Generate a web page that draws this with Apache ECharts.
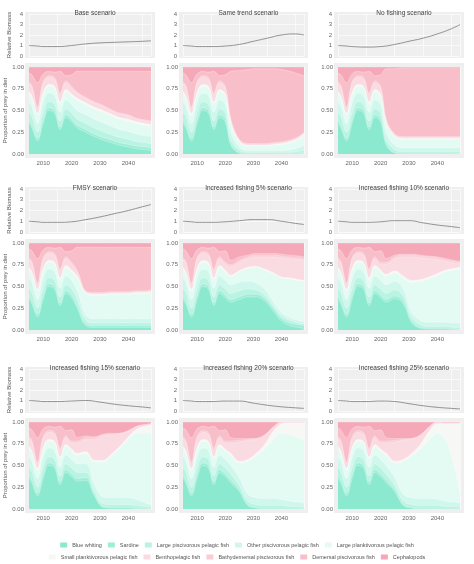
<!DOCTYPE html>
<html><head><meta charset="utf-8">
<script src="https://cdn.jsdelivr.net/npm/echarts@6/dist/echarts.min.js"></script>
<style>html,body{margin:0;padding:0;background:#fff}#c{width:474px;height:564px}</style>
</head><body><div id="c"></div>
<script>
const preyGroups = ['Blue whiting','Sardine','Large piscivorous pelagic fish','Other piscivorous pelagic fish','Large planktivorous pelagic fish','Small planktivorous pelagic fish','Benthopelagic fish','Bathydemersal piscivorous fish','Demersal piscivorous fish','Cephalopods'];
const preyColors = ['#8ae9ce','#9eedd7','#b9f3e2','#d0f7ec','#e4fbf4','#f7f7f5','#fadbe1','#f8cdd6','#f8bfca','#f5a9b8'];
const scenarios = ['Base scenario','Same trend scenario','No fishing scenario','FMSY scenario','Increased fishing 5% scenario','Increased fishing 10% scenario','Increased fishing 15% scenario','Increased fishing 20% scenario','Increased fishing 25% scenario'];
const years = [2005,2006,2008,2010,2012,2014,2016,2018,2020,2022,2025,2028,2031,2034,2037,2040,2043,2046,2048];
const bioYears = [2005,2008,2010,2015,2020,2025,2030,2035,2040,2045,2048];
// shares 2005-2020 (common to all scenarios)
const earlyShares = [
 [.35,.30,.15,.35,.50,.47,.28,.42,.37],
 [.03,.03,.03,.04,.03,.03,.03,.03,.03],
 [.10,.10,.07,.08,.07,.07,.07,.07,.07],
 [.12,.12,.10,.12,.10,.10,.10,.10,.10],
 [.10,.10,.10,.10,.08,.09,.10,.10,.10],
 [.02,.02,.02,.02,.02,.02,.02,.02,.02],
 [.09,.10,.05,.10,.08,.08,.08,.08,.07],
 [.02,.02,.02,.02,.02,.02,.02,.02,.02],
 [.10,.12,.28,.09,.05,.06,.25,.06,.13],
 [.07,.09,.18,.08,.05,.06,.05,.10,.09]];
// shares 2022-2048 per scenario
const lateBase = [
 [.30,.25,.20,.16,.13,.10,.08,.06,.05,.04],
 [.03,.03,.03,.03,.03,.03,.03,.03,.03,.03],
 [.07,.07,.07,.07,.06,.06,.06,.05,.05,.05],
 [.10,.10,.10,.10,.10,.09,.09,.09,.08,.08],
 [.12,.12,.12,.12,.12,.12,.12,.12,.12,.12],
 [.02,.02,.02,.02,.02,.02,.02,.02,.02,.02],
 [.06,.05,.05,.05,.04,.04,.04,.03,.03,.03],
 [.01,.01,.01,.01,.01,.01,.01,.01,.01,.01],
 [.24,.30,.35,.39,.44,.48,.50,.54,.56,.57],
 [.05,.05,.05,.05,.05,.05,.05,.05,.05,.05]];
const lateSame = [
 [.10,.01,0,0,0,0,0,0,0,0],
 [.02,.01,.01,.01,.01,.01,.01,.01,.01,.01],
 [.05,.02,.01,.01,.01,.01,.01,.01,.02,.03],
 [.08,.04,.02,.02,.02,.02,.02,.03,.04,.06],
 [.10,.06,.05,.05,.05,.06,.07,.08,.10,.12],
 [.01,.01,.01,.01,.01,.01,.01,.01,.01,.01],
 [.03,.01,.01,.01,.01,.01,.01,.01,.01,.01],
 [.01,.01,.01,.01,.01,.01,.01,.01,.01,.01],
 [.55,.79,.85,.86,.86,.85,.83,.79,.72,.65],
 [.05,.04,.03,.02,.02,.02,.03,.05,.08,.10]];
const lateNoFishing = [
 [.10,.01,0,0,0,0,0,0,0,0],
 [.02,.01,.01,.01,.01,.01,.01,.01,.01,.01],
 [.05,.03,.02,.02,.02,.02,.02,.02,.02,.02],
 [.08,.05,.04,.04,.04,.04,.04,.04,.04,.04],
 [.10,.10,.10,.10,.10,.10,.10,.10,.10,.10],
 [.01,.01,.01,.01,.01,.01,.01,.01,.01,.01],
 [.03,.01,.01,.01,.01,.01,.01,.01,.01,.01],
 [.01,.01,.01,.01,.01,.01,.01,.01,.01,.01],
 [.58,.75,.79,.79,.79,.79,.79,.79,.79,.79],
 [.02,.02,.01,.01,.01,.01,.01,.01,.01,.01]];
const lateFmsy = [
 [.25,.05,.03,.03,.03,.03,.03,.03,.03,.03],
 [.03,.02,.02,.02,.02,.02,.02,.02,.02,.02],
 [.07,.04,.03,.03,.03,.03,.03,.03,.03,.03],
 [.10,.06,.05,.05,.05,.05,.05,.05,.05,.05],
 [.15,.25,.27,.27,.28,.28,.28,.29,.29,.30],
 [.02,.01,.01,.01,.01,.01,.01,.01,.01,.01],
 [.05,.01,.01,.01,.01,.01,.01,.01,.01,.01],
 [.01,.01,.01,.01,.01,.01,.01,.01,.01,.01],
 [.27,.50,.52,.52,.51,.51,.51,.50,.50,.49],
 [.05,.05,.05,.05,.05,.05,.05,.05,.05,.05]];
const lateInc5 = [
 [.32,.35,.38,.38,.33,.22,.10,.05,.03,.02],
 [.03,.03,.03,.03,.03,.03,.03,.03,.03,.03],
 [.07,.07,.06,.05,.04,.03,.03,.03,.02,.02],
 [.10,.10,.09,.08,.07,.05,.04,.03,.03,.03],
 [.10,.12,.15,.18,.22,.32,.40,.45,.46,.46],
 [.01,.01,.01,.01,.01,.01,.01,.01,.01,.01],
 [.10,.10,.10,.11,.14,.18,.22,.22,.23,.23],
 [.02,.02,.02,.02,.02,.02,.02,.02,.02,.02],
 [.05,.04,.02,.02,.02,.02,.02,.02,.02,.02],
 [.20,.16,.14,.12,.12,.12,.13,.14,.15,.16]];
const lateInc10 = [
 [.32,.36,.30,.08,.02,.01,.01,.01,0,0],
 [.03,.03,.03,.02,.01,.01,.01,.01,.01,.01],
 [.07,.07,.06,.04,.03,.02,.02,.02,.02,.02],
 [.10,.10,.08,.06,.05,.05,.05,.05,.05,.05],
 [.10,.10,.13,.35,.45,.50,.54,.58,.61,.62],
 [.02,.02,.02,.02,.02,.02,.02,.02,.02,.02],
 [.12,.14,.22,.27,.25,.21,.16,.10,.06,.04],
 [.02,.02,.02,.02,.02,.02,.02,.02,.02,.02],
 [.04,.02,.01,.01,.01,.01,.01,.01,.01,.01],
 [.18,.14,.13,.13,.14,.15,.16,.18,.20,.21]];
const lateInc15 = [
 [.32,.33,.15,.02,.01,.01,.01,0,0,0],
 [.03,.03,.02,.01,.01,.01,.01,.01,.01,.01],
 [.07,.06,.04,.03,.03,.03,.03,.03,.02,.02],
 [.10,.10,.08,.08,.08,.08,.08,.07,.04,.02],
 [.10,.12,.25,.40,.48,.57,.67,.76,.80,.82],
 [.02,.02,.02,.02,.02,.02,.03,.05,.08,.10],
 [.12,.14,.24,.28,.22,.14,.06,.02,.01,0],
 [.02,.02,.02,.01,.01,.01,.01,.01,.01,.01],
 [.04,.02,.01,.01,.01,0,0,0,0,0],
 [.18,.16,.17,.14,.13,.13,.10,.05,.03,.02]];
const lateInc20 = [
 [.30,.20,.04,.01,0,0,0,0,0,0],
 [.03,.02,.01,.01,.01,.01,.01,.01,.01,.01],
 [.07,.05,.04,.03,.03,.03,.03,.02,.02,.02],
 [.10,.09,.08,.08,.08,.08,.07,.06,.05,.04],
 [.12,.17,.38,.48,.57,.67,.76,.76,.74,.72],
 [.02,.02,.02,.03,.05,.10,.11,.14,.17,.20],
 [.12,.22,.22,.16,.10,.04,.01,0,0,0],
 [.02,.02,.01,.01,.01,.01,.01,.01,.01,.01],
 [.04,.02,.01,0,0,0,0,0,0,0],
 [.18,.19,.19,.19,.15,.06,0,0,0,0]];
const lateInc25 = [
 [.30,.20,.04,.01,0,0,0,0,0,0],
 [.03,.02,.01,.01,.01,.01,.01,.01,.01,.01],
 [.07,.05,.04,.03,.03,.03,.03,.02,.02,.02],
 [.10,.09,.08,.08,.08,.08,.07,.06,.05,.04],
 [.12,.17,.38,.48,.57,.67,.76,.70,.40,.12],
 [.02,.02,.02,.03,.05,.10,.11,.19,.50,.79],
 [.12,.22,.22,.16,.10,.04,.01,0,0,0],
 [.02,.02,.01,.01,.01,.01,.01,.01,.01,.01],
 [.04,.02,.01,0,0,0,0,0,0,0],
 [.18,.19,.19,.19,.15,.06,0,.01,.01,.01]];
const lateShares = [lateBase,lateSame,lateNoFishing,lateFmsy,lateInc5,lateInc10,lateInc15,lateInc20,lateInc25];
const bioBase   = [1.0,0.95,0.9,0.9,1.0,1.15,1.25,1.3,1.35,1.4,1.45];
const bioSame   = [1.0,0.95,0.9,0.9,0.95,1.1,1.4,1.7,2.0,2.1,2.0];
const bioNoFish = [1.0,0.95,0.9,0.85,0.9,1.1,1.4,1.7,2.1,2.6,3.0];
const bioFmsy   = [1.0,0.95,0.9,0.9,0.95,1.15,1.4,1.7,2.0,2.35,2.55];
const bioInc5   = [1.0,0.95,0.9,0.9,0.95,1.05,1.15,1.15,1.0,0.8,0.7];
const bioInc10  = [1.0,0.95,0.9,0.9,0.95,1.05,1.05,0.85,0.65,0.5,0.4];
const bioInc15  = [1.0,0.95,0.9,0.9,0.95,1.0,0.85,0.65,0.5,0.38,0.3];
const bioInc20  = [1.0,0.95,0.9,0.9,0.95,0.95,0.75,0.55,0.4,0.3,0.25];
const bioInc25  = [1.0,0.95,0.9,0.9,0.95,0.9,0.7,0.5,0.35,0.25,0.2];
const biomass = [bioBase,bioSame,bioNoFish,bioFmsy,bioInc5,bioInc10,bioInc15,bioInc20,bioInc25];
const yTicksProp = ['0.00','0.25','0.50','0.75','1.00'];

const colX = [[29,151],[183,304],[338,460]];
const rows = [{lt:14,lb:56,at:67,ab:154,title:5},{lt:189,lb:232,at:243,ab:330,title:180},{lt:369,lb:411,at:422,ab:509,title:360}];
const grid=[],xAxis=[],yAxis=[],series=[],title=[],graphic=[];
const lab={fontSize:6,color:'#666',fontFamily:'Liberation Sans'};
const split={show:true,lineStyle:{color:'#fff',width:0.6}};
scenarios.forEach((name,i)=>{
  const c=colX[i%3], r=rows[Math.floor(i/3)];
  title.push({text:name,left:(c[0]+c[1])/2,top:r.title,textAlign:'center',textStyle:{fontSize:6.5,fontWeight:'normal',color:'#444',fontFamily:'Liberation Sans'}});
  graphic.push({type:'rect',z:-1,shape:{x:c[0]-4,y:r.lt-2,width:c[1]-c[0]+8,height:r.lb-r.lt+4},style:{fill:'#efefef'}});
  graphic.push({type:'rect',z:-1,shape:{x:c[0]-4,y:r.at-4,width:c[1]-c[0]+8,height:r.ab-r.at+8},style:{fill:'#efefef'}});
  const gl=grid.length;
  grid.push({left:c[0],width:c[1]-c[0],top:r.lt,height:r.lb-r.lt});
  grid.push({left:c[0],width:c[1]-c[0],top:r.at,height:r.ab-r.at});
  xAxis.push({type:'value',gridIndex:gl,min:2005,max:2048,interval:10,axisLine:{show:false},axisTick:{show:false},axisLabel:{show:false},splitLine:split});
  xAxis.push({type:'value',gridIndex:gl+1,min:2005,max:2048,interval:10,axisLine:{show:false},axisTick:{show:false},axisLabel:{...lab,margin:6,customValues:[2010,2020,2030,2040],formatter:v=>String(v)},splitLine:split});
  const first=i%3===0;
  yAxis.push({type:'value',gridIndex:gl,min:0,max:4,interval:1,axisLine:{show:false},axisTick:{show:false},axisLabel:{...lab,margin:6},splitLine:split,
    name:first?'Relative Biomass':'',nameLocation:'middle',nameGap:17,nameTextStyle:{fontSize:6,color:'#555',fontFamily:'Liberation Sans'}});
  yAxis.push({type:'value',gridIndex:gl+1,min:0,max:1,interval:0.25,axisLine:{show:false},axisTick:{show:false},axisLabel:{...lab,margin:5,formatter:v=>yTicksProp[Math.round(v*4)]},splitLine:{show:false},
    name:first?'Proportion of prey in diet':'',nameLocation:'middle',nameGap:20,nameTextStyle:{fontSize:6,color:'#555',fontFamily:'Liberation Sans'}});
  series.push({type:'line',xAxisIndex:gl,yAxisIndex:gl,smooth:true,symbol:'none',lineStyle:{color:'#777',width:0.8},data:bioYears.map((y,k)=>[y,biomass[i][k]])});
  // cumulative tops (stacking), drawn from the top layer downwards
  const shares=preyGroups.map((g,j)=>earlyShares[j].concat(lateShares[i][j]));
  const cum=[]; let run=years.map(()=>0);
  shares.forEach(s=>{run=run.map((v,k)=>Math.min(1,v+s[k])); cum.push(run.slice());});
  for(let j=preyGroups.length-1;j>=0;j--){
    series.push({type:'line',name:preyGroups[j],xAxisIndex:gl+1,yAxisIndex:gl+1,smooth:0.4,symbol:'none',z:2+(preyGroups.length-j)*0.01,
      lineStyle:{width:0.4,color:'rgba(255,255,255,0.7)'},areaStyle:{color:preyColors[j],opacity:1,origin:'start'},itemStyle:{color:preyColors[j]},
      data:years.map((y,k)=>[y,j===preyGroups.length-1?1:cum[j][k]])});
  }
});
const legText={fontSize:5.5,color:'#555',fontFamily:'Liberation Sans',padding:[0,14,0,0]};
const chart=echarts.init(document.getElementById('c'),null,{renderer:'canvas'});
chart.setOption({animation:false,title,grid,xAxis,yAxis,series,graphic,
  legend:[{data:preyGroups.slice(0,5),top:537,left:'center',itemWidth:7,itemHeight:5,itemGap:6,textStyle:legText,icon:'rect'},
          {data:preyGroups.slice(5),top:549,left:'center',itemWidth:7,itemHeight:5,itemGap:6,textStyle:legText,icon:'rect'}]});
</script></body></html>
